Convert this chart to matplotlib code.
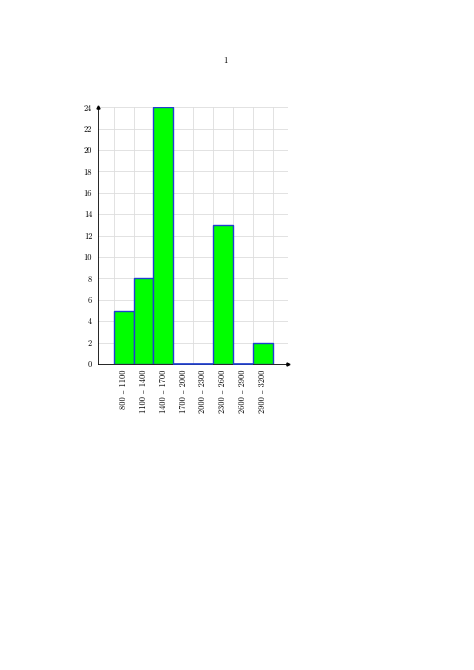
import matplotlib
matplotlib.use("Agg")
import matplotlib.pyplot as plt

# Histogram data
bins = ["800 – 1100", "1100 – 1400", "1400 – 1700", "1700 – 2000",
        "2000 – 2300", "2300 – 2600", "2600 – 2900", "2900 – 3200"]
counts = [5, 8, 24, 0, 0, 13, 0, 2]
y_ticks = [0, 2, 4, 6, 8, 10, 12, 14, 16, 18, 20, 22, 24]

plt.rcParams["font.family"] = ["cmr10", "DejaVu Serif"]
plt.rcParams["axes.formatter.use_mathtext"] = True

BAR_EDGE = "#1f3fd0"

fig = plt.figure(figsize=(4.74, 6.70), dpi=100)
# page number like on the LaTeX page
fig.text(225 / 474, 1 - 61 / 670, "1", ha="center", va="center", fontsize=6)

ax = fig.add_axes([97.7 / 474, 1 - 364 / 670, 189.8 / 474, 256.7 / 670])

centers = [i + 0.5 for i in range(len(bins))]
ax.bar(centers, counts, width=1, color="#00ff00", edgecolor=BAR_EDGE,
       linewidth=1.0, zorder=3)

# empty bins still show their bottom edge over the axis line
for i, c in enumerate(counts):
    if c == 0:
        ax.hlines(0, i, i + 1, color=BAR_EDGE, linewidth=1.2, zorder=4,
                  clip_on=False)

ax.set_xlim(-0.805, 8.74)
ax.set_ylim(0, 24)
ax.set_yticks(y_ticks)
ax.set_yticklabels([str(v) for v in y_ticks])
ax.set_xticks(centers)
ax.set_xticklabels(bins, rotation=90)
ax.set_xticks(range(len(bins) + 1), minor=True)

ax.grid(False)
ax.grid(True, which="minor", axis="x", color="#dddddd", linewidth=0.6, zorder=0)
ax.grid(True, which="major", axis="y", color="#dddddd", linewidth=0.6, zorder=0)
ax.set_axisbelow(True)

ax.tick_params(axis="both", which="both", length=0, labelsize=6, pad=4)

for side in ["top", "right"]:
    ax.spines[side].set_visible(False)
for side in ["left", "bottom"]:
    ax.spines[side].set_linewidth(0.6)

# arrow heads on the axis lines
ax.plot(1, 0, ">k", markersize=2.2, transform=ax.transAxes, clip_on=False)
ax.plot(0, 1, "^k", markersize=2.2, transform=ax.transAxes, clip_on=False)

fig.savefig("out.png", dpi=100)
